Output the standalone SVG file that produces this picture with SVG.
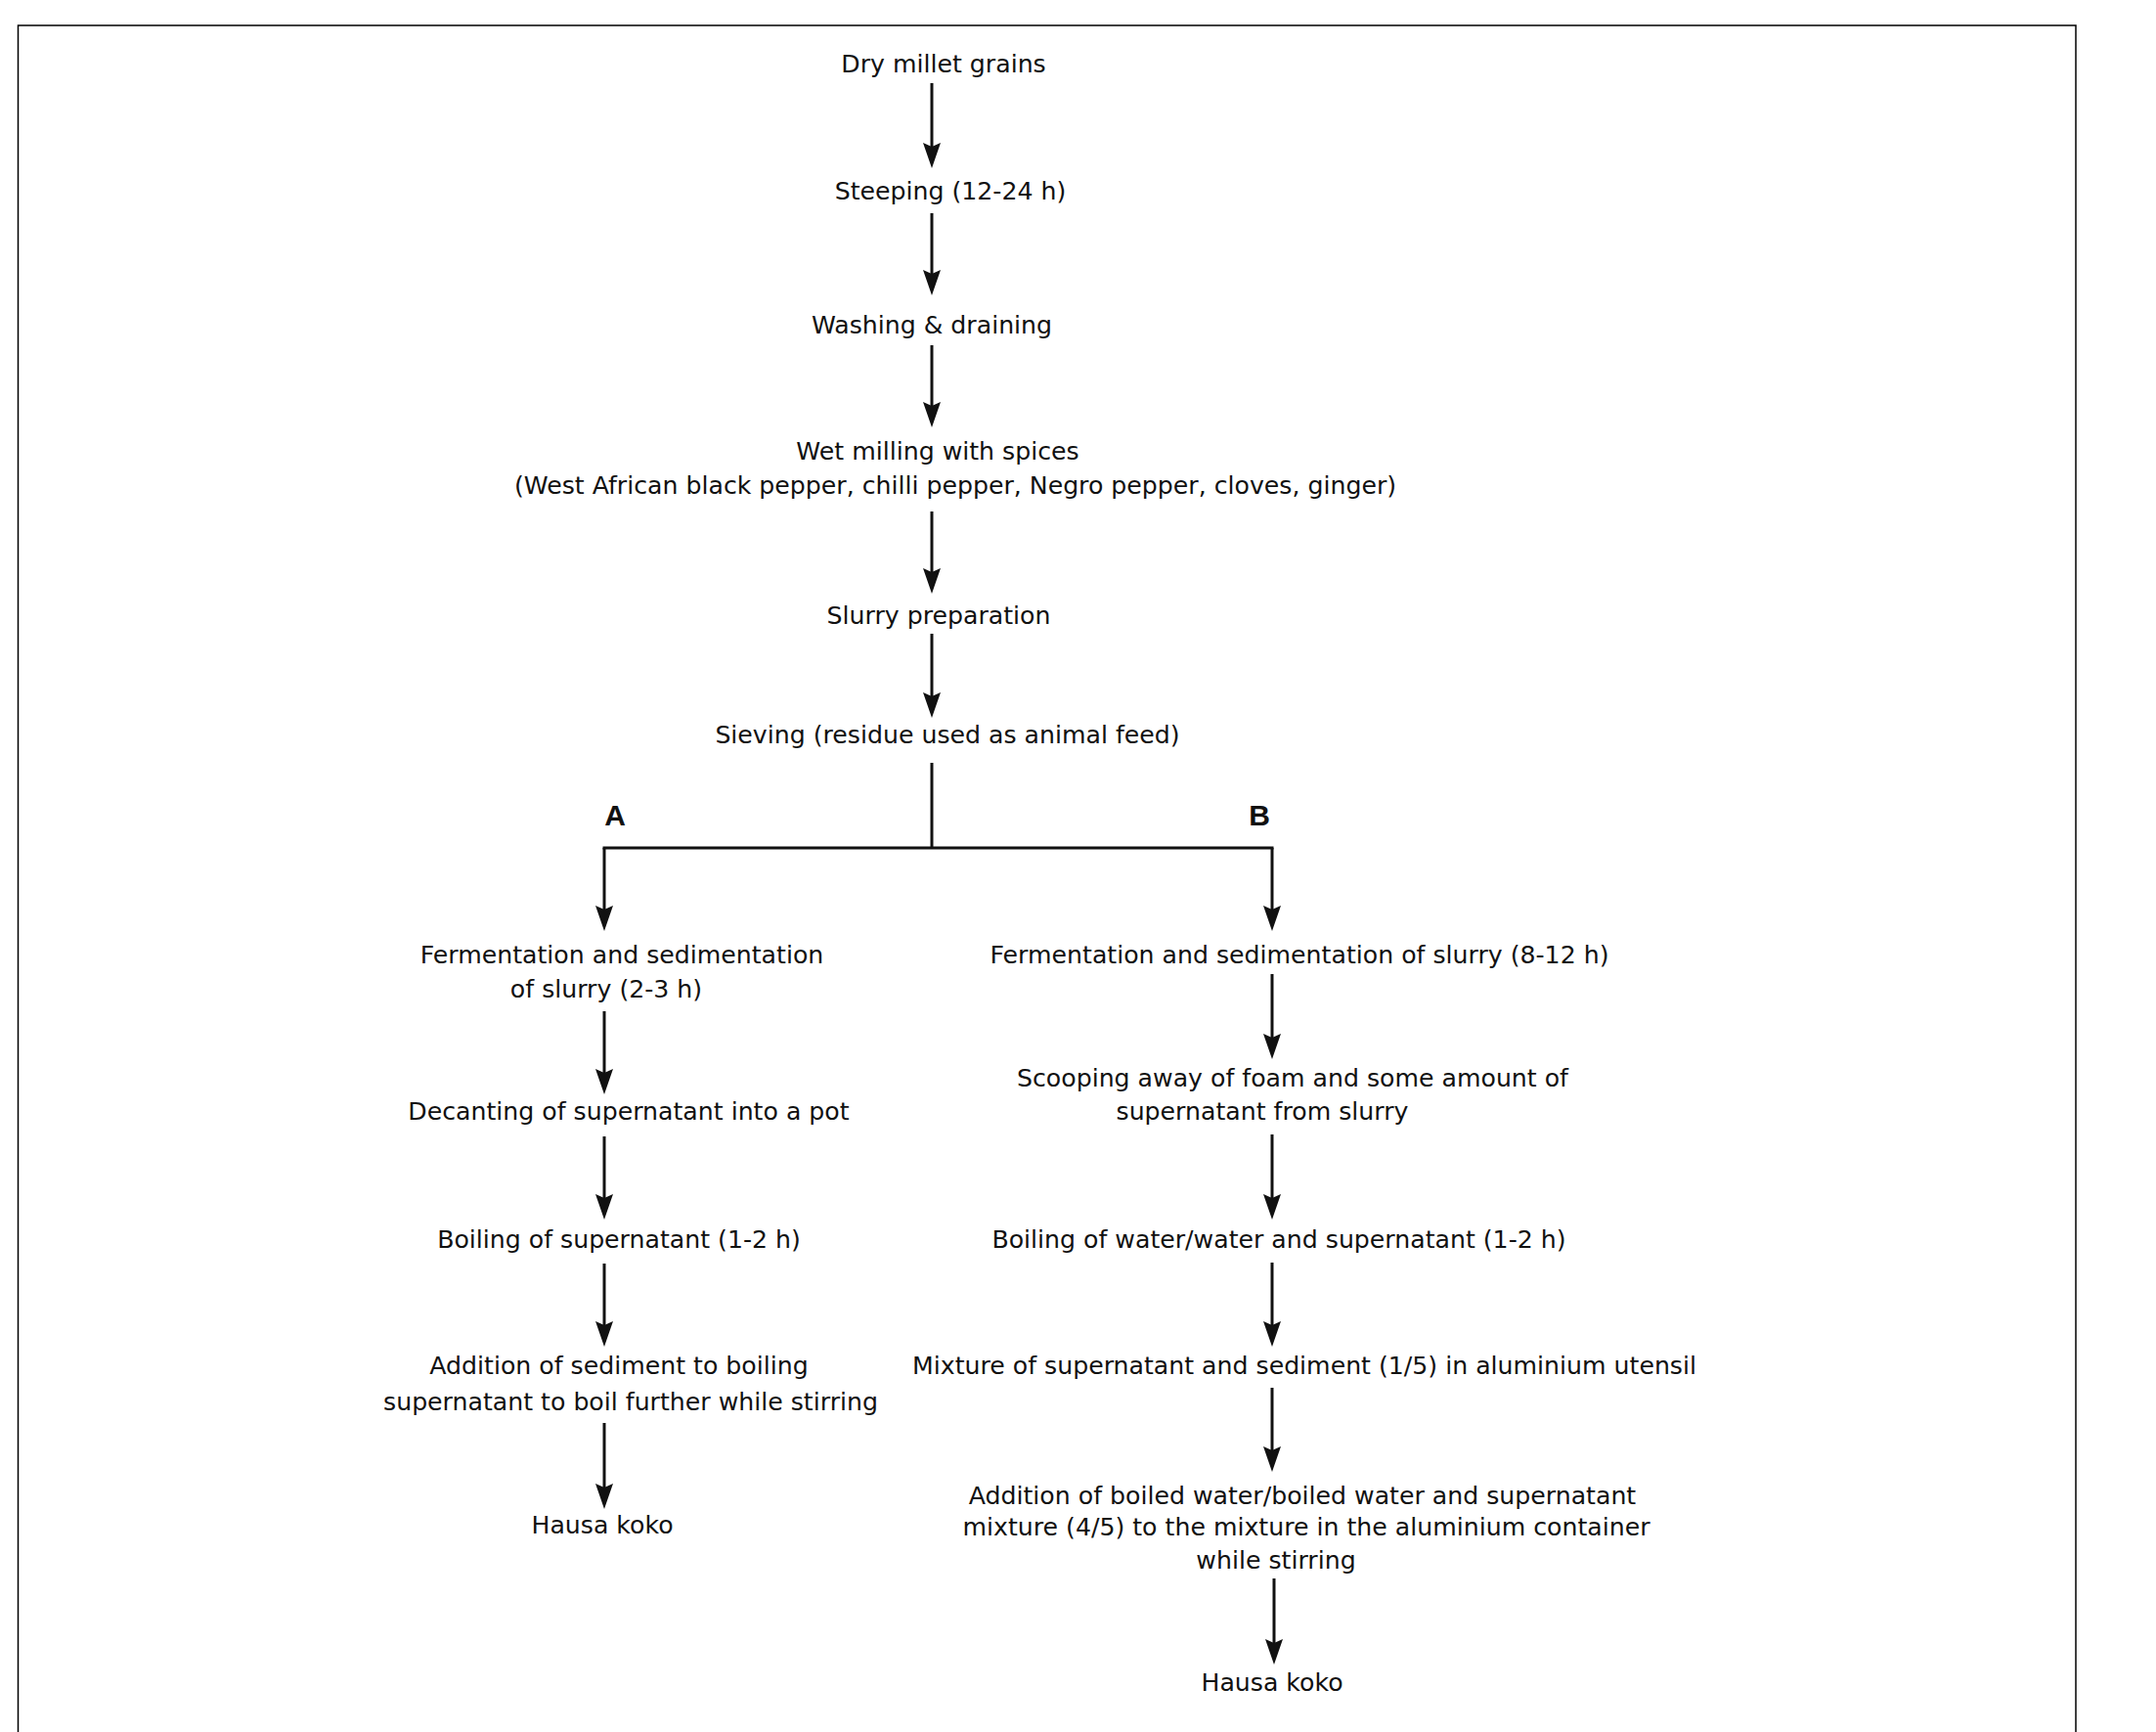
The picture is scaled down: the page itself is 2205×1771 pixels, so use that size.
<svg xmlns="http://www.w3.org/2000/svg" width="2205" height="1771" viewBox="0 0 2205 1771">
<style>
text{font-family:"DejaVu Sans",Verdana,sans-serif;font-size:25.2px;fill:#111;text-anchor:middle}
.lbl{font-family:"Liberation Sans",Arial,sans-serif;font-weight:bold;font-size:30px}
.ln{stroke:#111;stroke-width:3;fill:none}
.ar{stroke:#111;stroke-width:3;fill:none;marker-end:url(#ah)}
.frame{stroke:#000;stroke-width:1.5;fill:none}
</style>
<defs>
<marker id="ah" markerUnits="userSpaceOnUse" markerWidth="28" markerHeight="20" refX="6" refY="9" orient="auto" viewBox="0 0 28 20">
<path d="M0,0 L26,9 L0,18 L4,9 z" fill="#111"/>
</marker>
</defs>
<rect width="2205" height="1771" fill="#fff"/>
<path class="frame" d="M18.5,1771 V26 H2123 V1771"/>
<g id="connectors">
<line class="ar" x1="953" y1="85" x2="953" y2="152"/>
<line class="ar" x1="953" y1="218" x2="953" y2="282"/>
<line class="ar" x1="953" y1="353" x2="953" y2="417"/>
<line class="ar" x1="953" y1="523" x2="953" y2="587"/>
<line class="ar" x1="953" y1="648" x2="953" y2="714"/>
<path class="ln" d="M953,780 V867"/>
<path class="ln" d="M618,867 H1301" stroke-linecap="square"/>
<line class="ar" x1="618" y1="867" x2="618" y2="932"/>
<line class="ar" x1="1301" y1="867" x2="1301" y2="932"/>
<line class="ar" x1="618" y1="1034" x2="618" y2="1099"/>
<line class="ar" x1="618" y1="1162" x2="618" y2="1227"/>
<line class="ar" x1="618" y1="1292" x2="618" y2="1357"/>
<line class="ar" x1="618" y1="1455" x2="618" y2="1523"/>
<line class="ar" x1="1301" y1="996" x2="1301" y2="1063"/>
<line class="ar" x1="1301" y1="1160" x2="1301" y2="1227"/>
<line class="ar" x1="1301" y1="1291" x2="1301" y2="1357"/>
<line class="ar" x1="1301" y1="1419" x2="1301" y2="1485"/>
<line class="ar" x1="1303" y1="1614" x2="1303" y2="1682"/>
</g>
<g id="n1"><text x="965" y="74">Dry millet grains</text></g>
<g id="n2"><text x="972" y="204">Steeping (12-24 h)</text></g>
<g id="n3"><text x="953" y="341">Washing &amp; draining</text></g>
<g id="n4"><text x="959" y="470">Wet milling with spices</text><text x="977" y="505">(West African black pepper, chilli pepper, Negro pepper, cloves, ginger)</text></g>
<g id="n5"><text x="960" y="638">Slurry preparation</text></g>
<g id="n6"><text x="969" y="760">Sieving (residue used as animal feed)</text></g>
<g id="labelA"><text class="lbl" x="629" y="844">A</text></g>
<g id="labelB"><text class="lbl" x="1288" y="844">B</text></g>
<g id="a1"><text x="636" y="985">Fermentation and sedimentation</text><text x="620" y="1020">of slurry (2-3 h)</text></g>
<g id="a2"><text x="643" y="1145">Decanting of supernatant into a pot</text></g>
<g id="a3"><text x="633" y="1276">Boiling of supernatant (1-2 h)</text></g>
<g id="a4"><text x="633" y="1405">Addition of sediment to boiling</text><text x="645" y="1442">supernatant to boil further while stirring</text></g>
<g id="a5"><text x="616" y="1568">Hausa koko</text></g>
<g id="b1"><text x="1329" y="985">Fermentation and sedimentation of slurry (8-12 h)</text></g>
<g id="b2"><text x="1322" y="1111">Scooping away of foam and some amount of</text><text x="1291" y="1145">supernatant from slurry</text></g>
<g id="b3"><text x="1308" y="1276">Boiling of water/water and supernatant (1-2 h)</text></g>
<g id="b4"><text x="1334" y="1405">Mixture of supernatant and sediment (1/5) in aluminium utensil</text></g>
<g id="b5"><text x="1332" y="1538">Addition of boiled water/boiled water and supernatant</text><text x="1336" y="1570">mixture (4/5) to the mixture in the aluminium container</text><text x="1305" y="1604">while stirring</text></g>
<g id="b6"><text x="1301" y="1729">Hausa koko</text></g>
</svg>
